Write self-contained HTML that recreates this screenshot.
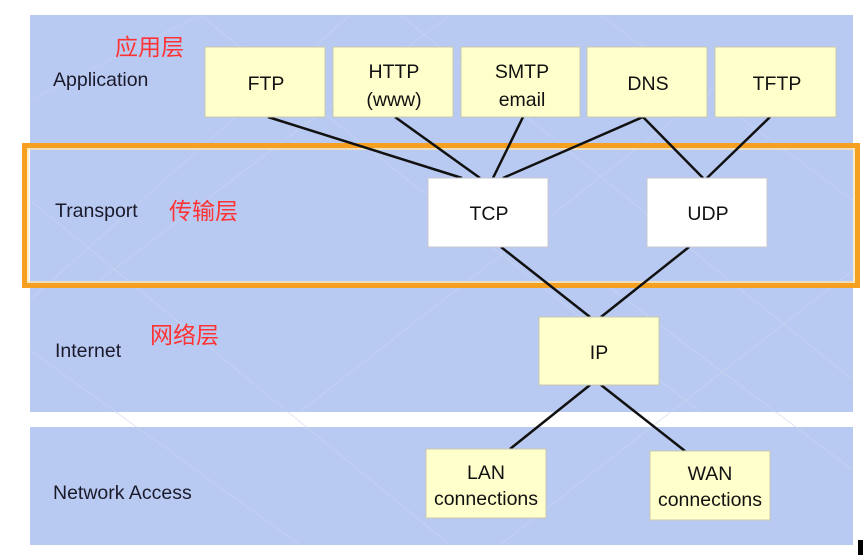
<!DOCTYPE html>
<html><head><meta charset="utf-8"><style>
html,body{margin:0;padding:0;background:#fff;}
svg{display:block}
text{font-family:"Liberation Sans",Arial,sans-serif;}
.cn{font-family:"Liberation Sans","Noto Sans CJK SC",sans-serif;fill:#ff3333;font-size:23px;}
.lbl{font-size:19.5px;fill:#1a1a2a;}
.bt{font-size:19.5px;fill:#111;text-anchor:middle;}
</style></head><body>
<svg width="863" height="555" viewBox="0 0 863 555" xmlns="http://www.w3.org/2000/svg">
<rect x="0" y="0" width="863" height="555" fill="#fff"/>
<rect x="30" y="15" width="823" height="397" fill="#b9caf2"/>
<rect x="30" y="427" width="823" height="118" fill="#b9caf2"/>
<g stroke="#c9d4ee" stroke-width="1" fill="none" opacity="0.6">
<path d="M30 100 L200 15 M100 280 L450 15 M300 412 L750 60 M500 545 L853 270 M30 300 L350 15 M600 15 L853 200 M200 15 L700 412 M30 200 L450 545 M400 15 L853 380 M600 280 L853 470 M300 545 L30 350"/>
</g>
<rect x="24.5" y="145.5" width="833" height="140" fill="none" stroke="#f5a020" stroke-width="5"/>
<rect x="28" y="149" width="826" height="133" fill="none" stroke="#fde6b0" stroke-width="1.5"/>
<g stroke="#111" stroke-width="2.5" fill="none">
<line x1="268" y1="117" x2="462" y2="178"/>
<line x1="395" y1="117" x2="480" y2="178"/>
<line x1="523" y1="117" x2="493" y2="178"/>
<line x1="643" y1="117" x2="503" y2="178"/>
<line x1="643" y1="117" x2="703" y2="178"/>
<line x1="770" y1="117" x2="707" y2="178"/>
<line x1="501" y1="247" x2="590" y2="317"/>
<line x1="689" y1="247" x2="601" y2="317"/>
<line x1="590" y1="385" x2="510" y2="449"/>
<line x1="601" y1="385" x2="685" y2="451"/>
</g>
<g stroke="#c8c8b0" stroke-width="1" fill="#ffffcc">
<rect x="205" y="47" width="120" height="70"/>
<rect x="333" y="47" width="120" height="70"/>
<rect x="461" y="47" width="119" height="70"/>
<rect x="587" y="47" width="120" height="70"/>
<rect x="715" y="47" width="121" height="70"/>
<rect x="539" y="317" width="120" height="68"/>
<rect x="426" y="449" width="120" height="69"/>
<rect x="650" y="451" width="120" height="69"/>
</g>
<g stroke="#c8c8d0" stroke-width="1" fill="#fff">
<rect x="428" y="178" width="120" height="69"/>
<rect x="647" y="178" width="120" height="69"/>
</g>
<text class="bt" x="266" y="90">FTP</text>
<text class="bt" x="394" y="78">HTTP</text>
<text class="bt" x="394" y="106">(www)</text>
<text class="bt" x="522" y="78">SMTP</text>
<text class="bt" x="522" y="106">email</text>
<text class="bt" x="648" y="90">DNS</text>
<text class="bt" x="777" y="90">TFTP</text>
<text class="bt" x="489" y="220">TCP</text>
<text class="bt" x="708" y="220">UDP</text>
<text class="bt" x="599" y="359">IP</text>
<text class="bt" x="486" y="479">LAN</text>
<text class="bt" x="486" y="505">connections</text>
<text class="bt" x="710" y="480">WAN</text>
<text class="bt" x="710" y="506">connections</text>
<text class="lbl" x="53" y="86">Application</text>
<text class="lbl" x="55" y="217">Transport</text>
<text class="lbl" x="55" y="357">Internet</text>
<text class="lbl" x="53" y="499">Network Access</text>
<text class="cn" x="115" y="55">应用层</text>
<text class="cn" x="169" y="219">传输层</text>
<text class="cn" x="150" y="343">网络层</text>
<rect x="858" y="540" width="5" height="15" fill="#000"/>
</svg>
</body></html>
